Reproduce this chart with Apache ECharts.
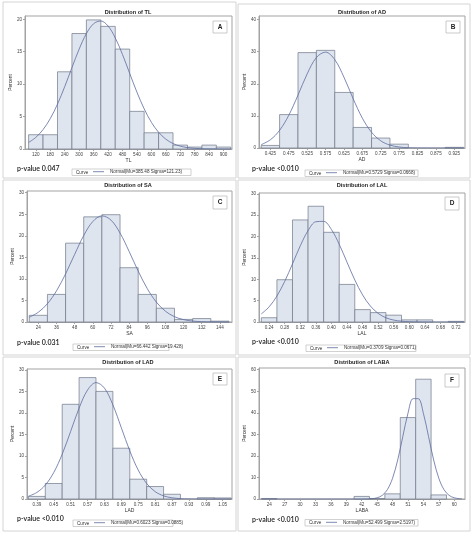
<!DOCTYPE html>
<html><head><meta charset="utf-8">
<script src="https://cdn.jsdelivr.net/npm/echarts@6/dist/echarts.min.js"></script>
<style>html,body{margin:0;padding:0;background:#fff}#c{width:474px;height:535px}</style>
</head><body><div id="c"></div>
<script>
// ---------- data ----------
const panelVars = ['TL', 'AD', 'SA', 'LAL', 'LAD', 'LABA'];
const panelLetters = ['A', 'B', 'C', 'D', 'E', 'F'];
const pValueTexts = ['p-value 0.047', 'p-value <0.010', 'p-value 0.031', 'p-value <0.010', 'p-value <0.010', 'p-value <0.010'];
const curveLabels = ['Normal(Mu=385.48 Sigma=121.23)', 'Normal(Mu=0.5729 Sigma=0.0668)', 'Normal(Mu=66.442 Sigma=19.428)',
  'Normal(Mu=0.3709 Sigma=0.0671)', 'Normal(Mu=0.6023 Sigma=0.0885)', 'Normal(Mu=52.499 Sigma=2.5197)'];
const binWidths = [60, 0.05, 12, 0.04, 0.06, 3];

const tlBins = [120, 180, 240, 300, 360, 420, 480, 540, 600, 660, 720, 780, 840, 900];
const tlPercent = [2.2, 2.2, 11.9, 17.8, 19.9, 18.9, 15.4, 5.8, 2.5, 2.5, 0.6, 0.3, 0.6, 0.3];
const tlCurveX = [90, 120, 150, 180, 210, 240, 270, 300, 330, 360, 390, 420, 450, 480, 510, 540, 570, 600, 630, 660, 690, 720, 750, 780, 810, 840, 870, 900, 930];
const tlCurveY = [1.01, 1.79, 2.99, 4.69, 6.92, 9.61, 12.54, 15.40, 17.78, 19.31, 19.73, 18.96, 17.13, 14.57, 11.65, 8.76, 6.20, 4.12, 2.58, 1.52, 0.84, 0.44, 0.21, 0.10, 0.04, 0.02, 0.01, 0, 0];
const tlYTicks = [0, 5, 10, 15, 20];

const adBins = [0.425, 0.475, 0.525, 0.575, 0.625, 0.675, 0.725, 0.775, 0.825, 0.875, 0.925];
const adPercent = [0.8, 10.4, 29.7, 30.4, 17.3, 6.4, 3.1, 1.2, 0, 0, 0.2];
const adCurveX = [0.400, 0.425, 0.450, 0.475, 0.500, 0.525, 0.550, 0.575, 0.600, 0.625, 0.650, 0.675, 0.700, 0.725, 0.750, 0.775, 0.800, 0.825, 0.850, 0.875, 0.900, 0.925, 0.950];
const adCurveY = [1.05, 2.57, 5.50, 10.20, 16.46, 23.09, 28.16, 29.85, 27.50, 22.03, 15.34, 9.29, 4.89, 2.24, 0.89, 0.31, 0.09, 0.02, 0.01, 0, 0, 0, 0];
const adYTicks = [0, 10, 20, 30, 40];

const saBins = [24, 36, 48, 60, 72, 84, 96, 108, 120, 132, 144];
const saPercent = [1.55, 6.4, 18.3, 24.4, 24.9, 12.6, 6.4, 3.2, 0.6, 0.8, 0.2];
const saCurveX = [18, 24, 30, 36, 42, 48, 54, 60, 66, 72, 78, 84, 90, 96, 102, 108, 114, 120, 126, 132, 138, 144, 150];
const saCurveY = [1.10, 2.27, 4.24, 7.22, 11.17, 15.70, 20.07, 23.32, 24.63, 23.65, 20.64, 16.38, 11.81, 7.74, 4.62, 2.50, 1.23, 0.55, 0.22, 0.08, 0.03, 0.01, 0];
const saYTicks = [0, 5, 10, 15, 20, 25, 30];

const lalBins = [0.24, 0.28, 0.32, 0.36, 0.40, 0.44, 0.48, 0.52, 0.56, 0.60, 0.64, 0.68, 0.72];
const lalPercent = [1.0, 9.9, 23.9, 27.1, 21.0, 8.8, 2.9, 2.2, 1.6, 0.5, 0.5, 0, 0.15];
const lalCurveX = [0.22, 0.24, 0.26, 0.28, 0.30, 0.32, 0.34, 0.36, 0.38, 0.40, 0.42, 0.44, 0.46, 0.48, 0.50, 0.52, 0.54, 0.56, 0.58, 0.60, 0.62, 0.64, 0.66, 0.68, 0.70, 0.72, 0.74];
const lalCurveY = [1.90, 3.55, 6.07, 9.50, 13.61, 17.83, 21.39, 23.47, 23.56, 21.65, 18.19, 14.00, 9.85, 6.34, 3.74, 2.01, 0.99, 0.45, 0.19, 0.07, 0.02, 0.01, 0, 0, 0, 0, 0];
const lalYTicks = [0, 5, 10, 15, 20, 25, 30];

const ladBins = [0.39, 0.45, 0.51, 0.57, 0.63, 0.69, 0.75, 0.81, 0.87, 0.93, 0.99, 1.05];
const ladPercent = [0.6, 3.6, 22.0, 28.2, 25.0, 11.8, 4.6, 2.9, 1.1, 0, 0.3, 0.25];
const ladCurveX = [0.36, 0.39, 0.42, 0.45, 0.48, 0.51, 0.54, 0.57, 0.60, 0.63, 0.66, 0.69, 0.72, 0.75, 0.78, 0.81, 0.84, 0.87, 0.90, 0.93, 0.96, 0.99, 1.02, 1.05, 1.08];
const ladCurveY = [0.64, 1.52, 3.24, 6.15, 10.41, 15.70, 21.11, 25.31, 27.04, 25.76, 21.87, 16.55, 11.17, 6.72, 3.60, 1.72, 0.73, 0.28, 0.09, 0.03, 0.01, 0, 0, 0, 0];
const ladYTicks = [0, 5, 10, 15, 20, 25, 30];

const labaBins = [24, 27, 30, 33, 36, 39, 42, 45, 48, 51, 54, 57, 60];
const labaPercent = [0.2, 0, 0, 0, 0, 0, 1.2, 0.2, 2.4, 37.8, 55.6, 1.9, 0];
const labaCurveX = [22.5, 40, 41, 42, 43, 44, 45, 46, 47, 48, 49, 50, 51, 52, 53, 54, 55, 56, 57, 58, 59, 60, 61, 61.5];
const labaCurveY = [0, 0, 0, 0, 0.03, 0.16, 0.57, 1.71, 4.39, 9.65, 18.11, 29.05, 39.80, 46.58, 46.57, 39.78, 29.02, 18.09, 9.63, 4.38, 1.70, 0.57, 0.16, 0.08];
const labaYTicks = [0, 10, 20, 30, 40, 50, 60];

const allBins = [tlBins, adBins, saBins, lalBins, ladBins, labaBins];
const allPercent = [tlPercent, adPercent, saPercent, lalPercent, ladPercent, labaPercent];
const allCurveX = [tlCurveX, adCurveX, saCurveX, lalCurveX, ladCurveX, labaCurveX];
const allCurveY = [tlCurveY, adCurveY, saCurveY, lalCurveY, ladCurveY, labaCurveY];
const allYTicks = [tlYTicks, adYTicks, saYTicks, lalYTicks, ladYTicks, labaYTicks];

// ---------- layout / style ----------
const LAYOUT = [
  {grid: [25, 16, 207, 133], x: [75, 935], ymax: 20.5, dec: 0, title: [128, 12], letter: [213, 21, 14, 12], p: [17, 169], leg: [72, 169, 119, 6.5], border: [3, 2, 233, 176]},
  {grid: [259, 16, 206, 132], x: [0.394, 0.954], ymax: 41.1, dec: 3, title: [362, 12], letter: [446, 21, 14, 12], p: [252, 169], leg: [305, 170, 113, 6.5], border: [238, 4, 232, 174]},
  {grid: [27, 191, 205, 131], x: [16.5, 152], ymax: 30.4, dec: 0, title: [128, 185], letter: [213, 196, 14, 13], p: [17, 343], leg: [73, 344, 96, 6.5], border: [3, 180, 233, 175]},
  {grid: [259, 193, 206, 129], x: [0.214, 0.743], ymax: 30.2, dec: 2, title: [362, 185], letter: [445, 197, 14, 13], p: [252, 342], leg: [306, 345, 110, 6.5], border: [238, 180, 232, 175]},
  {grid: [27, 369, 205, 130], x: [0.355, 1.083], ymax: 30.2, dec: 2, title: [128, 362], letter: [213, 373, 14, 12], p: [17, 519], leg: [73, 520, 100, 6.5], border: [3, 357, 233, 174]},
  {grid: [259, 368, 206, 131], x: [22, 62.1], ymax: 60.8, dec: 0, title: [362, 362], letter: [445, 374, 14, 13], p: [252, 520], leg: [305, 519.5, 113, 6.5], border: [238, 357, 232, 174]}
];
const BAR_FILL = '#dfe5ef', BAR_EDGE = '#6f7788', CURVE = '#5d6c9e', FRAME = '#a3a3a3', TXT = '#333';
const FONT = 'Liberation Sans, Arial, sans-serif';

const grids = [], xAxes = [], yAxes = [], series = [], legends = [], graphics = [];
LAYOUT.forEach((L, i) => {
  grids.push({left: L.grid[0], top: L.grid[1], width: L.grid[2], height: L.grid[3], show: true, borderColor: FRAME, borderWidth: 1, backgroundColor: '#fff'});
  xAxes.push({
    type: 'value', gridIndex: i, min: L.x[0], max: L.x[1],
    name: panelVars[i], nameLocation: 'middle', nameGap: 9,
    nameTextStyle: {fontSize: 5, color: TXT, fontFamily: FONT},
    axisLine: {show: true, lineStyle: {color: FRAME, width: 1}},
    axisTick: {show: true, length: 2, lineStyle: {color: FRAME}, customValues: allBins[i]},
    axisLabel: {fontSize: 4.6, color: '#444', margin: 3, fontFamily: FONT, customValues: allBins[i],
      formatter: v => Number(v).toFixed(L.dec)},
    splitLine: {show: false}
  });
  yAxes.push({
    type: 'value', gridIndex: i, min: 0, max: L.ymax,
    name: 'Percent', nameLocation: 'middle', nameGap: 11,
    nameTextStyle: {fontSize: 4.8, color: TXT, fontFamily: FONT},
    axisLine: {show: true, lineStyle: {color: FRAME, width: 1}},
    axisTick: {show: true, length: 2, lineStyle: {color: FRAME}, customValues: allYTicks[i]},
    axisLabel: {fontSize: 4.6, color: '#444', margin: 3, fontFamily: FONT, customValues: allYTicks[i]},
    splitLine: {show: false}
  });
  const bw = binWidths[i];
  series.push({
    type: 'custom', xAxisIndex: i, yAxisIndex: i, silent: true,
    data: allBins[i].map((c, j) => [c, allPercent[i][j]]),
    encode: {x: 0, y: 1},
    renderItem: function (params, api) {
      const c = api.value(0), v = api.value(1);
      if (!v) return null;
      const p0 = api.coord([c - bw / 2, v]);
      const p1 = api.coord([c + bw / 2, 0]);
      return {type: 'rect', shape: {x: p0[0], y: p0[1], width: p1[0] - p0[0], height: p1[1] - p0[1]},
        style: {fill: BAR_FILL, stroke: BAR_EDGE, lineWidth: 0.7}};
    }
  });
  series.push({
    type: 'line', name: curveLabels[i], xAxisIndex: i, yAxisIndex: i,
    data: allCurveX[i].map((x, j) => [x, allCurveY[i][j]]),
    smooth: 0.35, symbol: 'none', silent: true,
    lineStyle: {color: CURVE, width: 0.8}, itemStyle: {color: CURVE}, z: 5
  });
  legends.push({
    data: [curveLabels[i]], left: L.leg[0] + 21, top: L.leg[1] + L.leg[3] / 2 - 3, padding: 0,
    icon: 'rect', itemWidth: 11, itemHeight: 0.8, itemGap: 2, selectedMode: false,
    textStyle: {fontSize: 4.6, color: TXT, fontFamily: FONT, padding: [0, 0, 0, 1]}
  });
  graphics.push({type: 'rect', shape: {x: L.border[0], y: L.border[1], width: L.border[2], height: L.border[3]},
    style: {fill: null, stroke: '#d4d4d4', lineWidth: 1}, z: -10});
  graphics.push({type: 'text', x: L.title[0], y: L.title[1],
    style: {text: 'Distribution of ' + panelVars[i], fontSize: 5.6, fontWeight: 'bold', fill: '#222', fontFamily: FONT, align: 'center', verticalAlign: 'middle'}});
  graphics.push({type: 'rect', shape: {x: L.letter[0], y: L.letter[1], width: L.letter[2], height: L.letter[3]},
    style: {fill: '#fff', stroke: '#bdbdbd', lineWidth: 0.8}, z: 10});
  graphics.push({type: 'text', x: L.letter[0] + L.letter[2] / 2, y: L.letter[1] + L.letter[3] / 2, z: 11,
    style: {text: panelLetters[i], fontSize: 6.5, fontWeight: 'bold', fill: '#222', fontFamily: FONT, align: 'center', verticalAlign: 'middle'}});
  graphics.push({type: 'text', x: L.p[0], y: L.p[1],
    style: {text: pValueTexts[i], fontSize: 7, fontWeight: 600, fill: '#222', fontFamily: 'Lato, Open Sans, sans-serif', align: 'left', verticalAlign: 'middle'}});
  graphics.push({type: 'rect', shape: {x: L.leg[0], y: L.leg[1], width: L.leg[2], height: L.leg[3]},
    style: {fill: '#fff', stroke: '#bdbdbd', lineWidth: 0.7}, z: -5});
  graphics.push({type: 'text', x: L.leg[0] + 4, y: L.leg[1] + L.leg[3] / 2,
    style: {text: 'Curve', fontSize: 4.6, fill: TXT, fontFamily: FONT, align: 'left', verticalAlign: 'middle'}});
});

const chart = echarts.init(document.getElementById('c'), null, {renderer: 'canvas'});
chart.setOption({
  animation: false,
  backgroundColor: '#fff',
  grid: grids, xAxis: xAxes, yAxis: yAxes, series: series, legend: legends,
  graphic: {elements: graphics}
});
</script></body></html>
